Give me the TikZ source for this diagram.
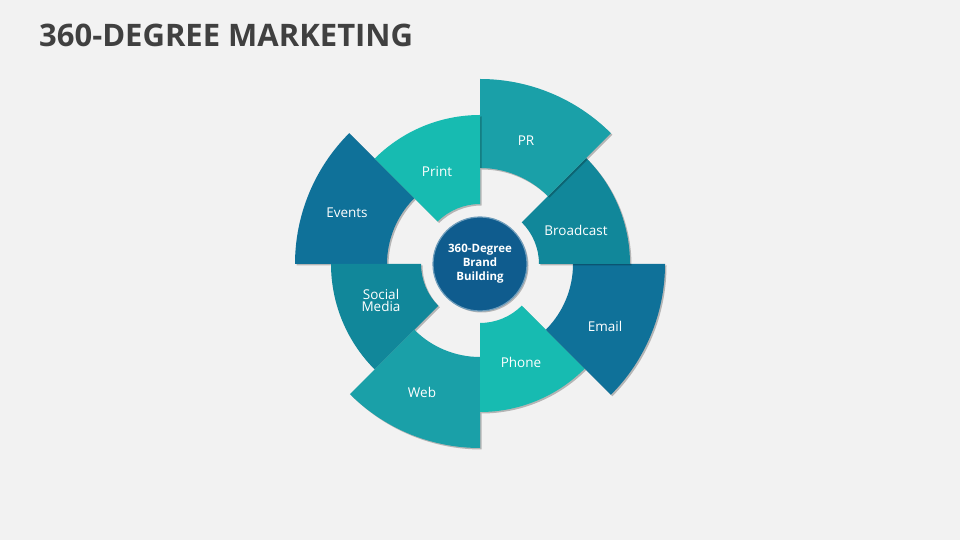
\documentclass[tikz,border=0pt]{standalone}
\usepackage{fontspec}
\setmainfont{Open Sans}
\usetikzlibrary{shadows}
\definecolor{bg}{HTML}{F2F2F2}
\definecolor{cA}{HTML}{1AA0A8}
\definecolor{cB}{HTML}{11879A}
\definecolor{cC}{HTML}{0F7199}
\definecolor{cD}{HTML}{17BBB1}
\definecolor{hub}{HTML}{0F5C8E}
\definecolor{ttl}{HTML}{404040}
\tikzset{
  lbl/.style={text=white,font=\fontsize{13.5}{14}\selectfont,align=center},
  pshadow/.style={drop shadow={shadow xshift=1.5pt,shadow yshift=-1.5pt,opacity=0.25,fill=black}},
}
\newcommand\piece[5]{\fill[#5,pshadow] (#1:#3) arc[start angle=#1,end angle=#2,radius=#3] -- (#2:#4) arc[start angle=#2,end angle=#1,radius=#4] -- cycle;}
\begin{document}
\begin{tikzpicture}[x=1pt,y=1pt]
\fill[bg] (0,0) rectangle (960,540);
\useasboundingbox (0,0) rectangle (960,540);
\node[anchor=west,font=\bfseries\fontsize{31}{33}\selectfont,text=ttl,inner sep=0pt] (title) at (39,505) {360-DEGREE MARKETING};
\begin{scope}[shift={(480,276)}]
\piece{135}{180}{185}{93}{cC}
\piece{180}{225}{149}{59}{cB}
\piece{225}{270}{184}{93}{cA}
\piece{270}{315}{148}{59}{cD}
\piece{315}{360}{185}{93}{cC}
\piece{0}{45}{150}{59}{cB}
\piece{45}{90}{185}{96}{cA}
\piece{90}{135}{149}{60}{cD}
\node[circle,minimum size=94pt,fill=hub,draw=hub!60!white,line width=1.2pt,pshadow,text=white,font=\bfseries\fontsize{11.5}{14}\selectfont,align=center,inner sep=0pt] (hubnode) at (0,0) {360-Degree\\Brand\\Building};
\end{scope}
\node[lbl] (pr) at (526,399) {PR};
\node[lbl] (broadcast) at (576,310) {Broadcast};
\node[lbl] (email) at (605,214) {Email};
\node[lbl] (phone) at (521,178) {Phone};
\node[lbl] (web) at (422,148) {Web};
\node[lbl,font=\fontsize{13.5}{12}\selectfont] (social) at (381,240) {Social\\Media};
\node[lbl] (events) at (347,327) {Events};
\node[lbl] (print) at (437,368) {Print};
\end{tikzpicture}
\end{document}
